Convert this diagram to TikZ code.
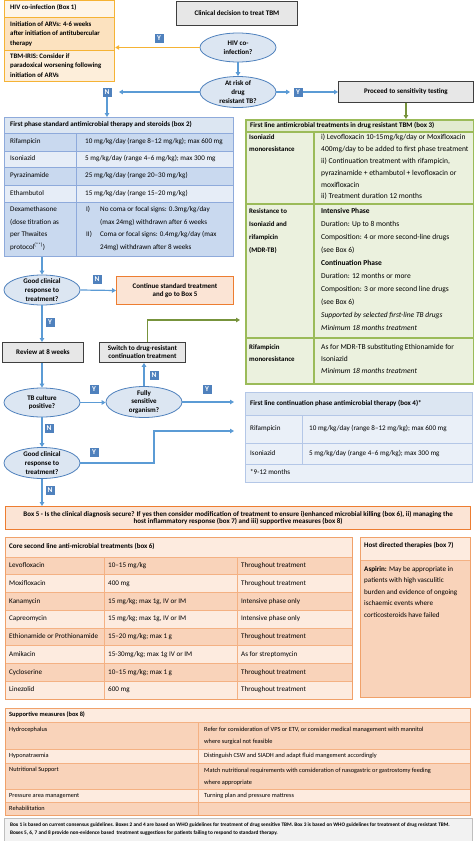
\documentclass[tikz,border=0pt]{standalone}
\usepackage{fontspec}
\setmainfont{Carlito}
\usetikzlibrary{arrows.meta,shapes.geometric,calc}
\definecolor{ygold}{HTML}{F5B335}
\definecolor{bxone}{HTML}{FEF5E8}
\definecolor{bxonem}{HTML}{FCE2BF}
\definecolor{bxonel}{HTML}{FDEEDA}
\definecolor{gfill}{HTML}{E7E7E7}
\definecolor{gline}{HTML}{3F3F3F}
\definecolor{efill}{HTML}{DCE6F2}
\definecolor{eline}{HTML}{4F81BD}
\definecolor{arb}{HTML}{5B9BD5}
\definecolor{ynb}{HTML}{4F81BD}
\definecolor{btwoh}{HTML}{DCE6F2}
\definecolor{btwod}{HTML}{C9D9EF}
\definecolor{btwol}{HTML}{E6EDF7}
\definecolor{btwoline}{HTML}{8EAADB}
\definecolor{gthree}{HTML}{9BBB59}
\definecolor{gfh}{HTML}{E2EBD0}
\definecolor{gfc}{HTML}{EBF1DE}
\definecolor{garr}{HTML}{77933C}
\definecolor{bfour}{HTML}{EAF0F8}
\definecolor{bfourh}{HTML}{DCE6F2}
\definecolor{bfourline}{HTML}{B4C7E7}
\definecolor{ofill}{HTML}{FBE4D5}
\definecolor{oline}{HTML}{ED7D31}
\definecolor{pk}{HTML}{F9D3BA}
\definecolor{pkl}{HTML}{FDEBDF}
\definecolor{pline}{HTML}{F4B183}
\definecolor{pout}{HTML}{F0A16A}
\definecolor{fnf}{HTML}{F2F2F2}
\definecolor{fnl}{HTML}{BFBFBF}
\newcommand\ftab{\fontsize{7.1}{12}\selectfont}
\newcommand\ftabb{\bfseries\fontsize{7}{12}\selectfont}
\newcommand\fbone{\bfseries\fontsize{6.8}{9.4}\selectfont}
\newcommand\fflow{\bfseries\fontsize{7}{8.2}\selectfont}
\newcommand\fell{\bfseries\fontsize{7}{8.8}\selectfont}
\newcommand\fyn{\bfseries\fontsize{7.4}{8}\selectfont}
\newcommand\ffive{\bfseries\fontsize{7}{7.6}\selectfont}
\newcommand\feight{\fontsize{6.3}{12}\selectfont}
\newcommand\ffoot{\bfseries\fontsize{5.3}{7.2}\selectfont}
\begin{document}
\begin{tikzpicture}[x=1pt,y=-1pt,
  tx/.style={inner sep=0pt, anchor=north west, align=left, font=\ftab},
  tc/.style={inner sep=0pt, anchor=west, text height=5.1pt, text depth=1.5pt, font=\ftab},
  bx/.style={draw=gline, fill=gfill, line width=0.9pt, inner sep=1pt, align=center, font=\fflow, anchor=north west},
  el/.style={ellipse, draw=eline, fill=efill, line width=0.8pt, minimum width=76pt, minimum height=30pt, inner sep=0pt},
  eltx/.style={inner sep=0pt, align=center, font=\fell},
  yn/.style={fill=ynb, draw=white, line width=0.4pt, text=white, font=\fyn, minimum width=9.5pt, minimum height=10.5pt, inner sep=0pt},
  ar/.style={draw=arb, line width=1.2pt, -{Triangle[length=4pt,width=4.5pt]}},
  frame/.style={inner sep=0pt, anchor=north west},
]
\useasboundingbox (0,0) rectangle (474,841);
\fill[white] (0,0) rectangle (474,841);

% ---------------- Box 1
\fill[bxone] (4,0) rectangle (114,17);
\fill[bxonem] (4,17) rectangle (114,50);
\fill[bxonel] (4,50) rectangle (114,81);
\draw[ygold, line width=1pt] (4,17) -- (114,17) (4,50) -- (114,50);
\node[frame, draw=ygold, line width=1.2pt, minimum width=110pt, minimum height=81pt] (box1) at (4,0) {};
\node[tx, font=\fbone] (b1h) at (10,4.5) {HIV co-infection (Box 1)};
\node[tx, font=\fbone] (b1a) at (10,21.5) {Initiation of ARVs: 4-6 weeks\\after initiation of antitubercular\\therapy};
\node[tx, font=\fbone] (b1b) at (10,53.5) {TBM-IRIS: Consider if\\paradoxical worsening following\\initiation of ARVs};

% ---------------- top flow
\node[bx, minimum width=121pt, minimum height=24pt] (clin) at (176,0.5) {Clinical decision to treat TBM};
\node[el, minimum height=29pt] (hiv) at (238,47.5) {};
\node[eltx] (hivt) at (hiv) {HIV co-\\infection?};
\node[el, minimum height=31pt] (risk) at (238,92) {};
\node[eltx] (riskt) at (risk) {At risk of\\drug\\resistant TB?};
\node[bx, minimum width=135pt, minimum height=21pt] (proc) at (338,81) {Proceed to sensitivity testing};
\node[yn] (y1) at (159,38) {Y};
\node[yn] (n1) at (107,92) {N};
\node[yn] (y2) at (298,92) {Y};

% ---------------- Box 2
\fill[btwoh] (4,117) rectangle (233,133);
\fill[btwod] (4,133) rectangle (233,151);
\fill[btwol] (4,151) rectangle (233,167);
\fill[btwod] (4,167) rectangle (233,185);
\fill[btwol] (4,185) rectangle (233,202);
\fill[btwod] (4,202) rectangle (233,256);
\draw[btwoline, line width=0.7pt] (4,133) -- (233,133) (4,151) -- (233,151) (4,167) -- (233,167) (4,185) -- (233,185) (4,202) -- (233,202) (76,133) -- (76,256);
\node[frame, draw=btwoline, line width=1pt, minimum width=229pt, minimum height=139pt] (box2) at (4,117) {};
\node[tc, font=\ftabb] (b2h) at (10,125) {First phase standard antimicrobial therapy and steroids (box 2)};
\node[tc] (b2r1) at (10,142) {Rifampicin};
\node[tc] (b2v1) at (85,142) {10 mg/kg/day (range 8–12 mg/kg); max 600 mg};
\node[tc] (b2r2) at (10,159) {Isoniazid};
\node[tc] (b2v2) at (85,159) {5 mg/kg/day (range 4–6 mg/kg); max 300 mg};
\node[tc] (b2r3) at (10,176) {Pyrazinamide};
\node[tc] (b2v3) at (85,176) {25 mg/kg/day (range 20–30 mg/kg)};
\node[tc] (b2r4) at (10,193.5) {Ethambutol};
\node[tc] (b2v4) at (85,193.5) {15 mg/kg/day (range 15–20 mg/kg)};
\node[tx, font=\fontsize{7.1}{12.5}\selectfont] (b2r5) at (10,206.5) {Dexamethasone\\(dose titration as\\per Thwaites\\protocol\textsuperscript{(**)})};
\node[tx, font=\fontsize{7.1}{12.5}\selectfont] (b2i) at (86,206.5) {I)\\ \\II)};
\node[tx, font=\fontsize{7.1}{12.5}\selectfont] (b2v5) at (100,206.5) {No coma or focal signs: 0.3mg/kg/day\\(max 24mg) withdrawn after 6 weeks\\Coma or focal signs: 0.4mg/kg/day (max\\24mg) withdrawn after 8 weeks};

% ---------------- Box 3
\fill[gfh] (245,119) rectangle (473,132);
\fill[gfc] (245,132) rectangle (473,383);
\draw[gthree, line width=1.2pt] (245,132) -- (473,132) (245,204) -- (473,204) (245,338) -- (473,338) (314,132) -- (314,383);
\node[frame, draw=gthree, line width=1.8pt, minimum width=228pt, minimum height=264pt] (box3) at (245,119) {};
\node[tc, font=\ftabb] (b3h) at (250,125.5) {First line antimicrobial treatments in drug resistant TBM (box 3)};
\node[tx, font=\bfseries\fontsize{6.9}{11.8}\selectfont] (b3r1) at (249,134.5) {Isoniazid\\monoresistance};
\node[tx, font=\fontsize{7.5}{11.8}\selectfont] (b3v1) at (321,134.2) {i) Levofloxacin 10-15mg/kg/day or Moxifloxacin\\400mg/day to be added to first phase treatment\\ii) Continuation treatment with rifampicin,\\pyrazinamide + ethambutol + levofloxacin or\\moxifloxacin\\ii) Treatment duration 12 months};
\node[tx, font=\bfseries\fontsize{6.9}{13}\selectfont] (b3r2) at (249,208.5) {Resistance to\\Isoniazid and\\rifampicin\\(MDR-TB)};
\node[tx, font=\fontsize{7.5}{13}\selectfont] (b3v2) at (321,208.2) {\textbf{Intensive Phase}\\Duration: Up to 8 months\\Composition: 4 or more second-line drugs\\(see Box 6)\\\textbf{Continuation Phase}\\Duration: 12 months or more\\Composition: 3 or more second line drugs\\(see Box 6)\\\textit{Supported by selected first-line TB drugs}\\\textit{Minimum 18 months treatment}};
\node[tx, font=\bfseries\fontsize{6.9}{12}\selectfont] (b3r3) at (249,344.5) {Rifampicin\\monoresistance};
\node[tx, font=\fontsize{7.5}{12}\selectfont] (b3v3) at (321,344.2) {As for MDR-TB substituting Ethionamide for\\Isoniazid\\\textit{Minimum 18 months treatment}};

% ---------------- middle flow
\node[el] (gc1) at (42,290) {};
\node[eltx] (gc1t) at (gc1) {Good clinical\\response to\\treatment?};
\node[frame, draw=oline, fill=ofill, line width=1pt, minimum width=117pt, minimum height=28pt, align=center, font=\fflow] (cont) at (116,276) {Continue standard treatment\\and go to Box 5};
\node[yn] (n2) at (97,279) {N};
\node[yn] (y3) at (50,322) {Y};
\node[bx, minimum width=81pt, minimum height=20pt] (rev) at (2,342) {Review at 8 weeks};
\node[bx, minimum width=86pt, minimum height=20pt] (swi) at (99,342) {Switch to drug-resistant\\continuation treatment};
\coordinate (g1) at (240,320);
\node[el, minimum height=29pt] (tbc) at (42,402.5) {};
\node[eltx] (tbct) at (tbc) {TB culture\\positive?};
\node[el, minimum height=31pt] (fs) at (144,402) {};
\node[eltx] (fst) at (fs) {Fully\\sensitive\\organism?};
\node[yn] (y4) at (94,389) {Y};
\node[yn] (n5) at (154,375) {N};
\node[yn] (y6) at (207,389) {Y};
\coordinate (a4) at (234,402);
\node[yn] (n7) at (49,428) {N};
\node[el, minimum height=31pt] (gc2) at (42,463) {};
\node[eltx] (gc2t) at (gc2) {Good clinical\\response to\\treatment?};
\node[yn] (y8) at (94,452) {Y};
\coordinate (a5) at (234,431);
\node[yn] (n9) at (50,490) {N};

% ---------------- Box 4
\fill[bfourh] (245,392) rectangle (472,415);
\fill[bfour] (245,415) rectangle (472,482);
\draw[bfourline, line width=0.8pt] (245,415) -- (472,415) (245,443) -- (472,443) (245,464) -- (472,464) (302,415) -- (302,464);
\node[frame, draw=bfourline, line width=1.3pt, minimum width=227pt, minimum height=90pt] (box4) at (245,392) {};
\node[tc, font=\ftabb] (b4h) at (250,403.5) {First line continuation phase antimicrobial therapy (box 4)*};
\node[tc] (b4r1) at (250,429) {Rifampicin};
\node[tc] (b4v1) at (309,429) {10 mg/kg/day (range 8–12 mg/kg); max 600 mg};
\node[tc] (b4r2) at (250,453.5) {Isoniazid};
\node[tc] (b4v2) at (309,453.5) {5 mg/kg/day (range 4–6 mg/kg); max 300 mg};
\node[tc] (b4f) at (250,473) {*9-12 months};

% ---------------- Box 5
\node[frame, draw=oline, fill=ofill, line width=1.2pt, minimum width=465pt, minimum height=23pt, align=center, font=\ffive] (box5) at (5,506) {Box 5 - Is the clinical diagnosis secure? If yes then consider modification of treatment to ensure i)enhanced microbial killing (box 6), ii) managing the\\host inflammatory response (box 7) and iii) supportive measures (box 8)};

% ---------------- Box 6
\fill[pkl] (5,537) rectangle (352,557);
\fill[pk] (5,557) rectangle (352,574.75);
\fill[pkl] (5,574.75) rectangle (352,592.5);
\fill[pk] (5,592.5) rectangle (352,610.25);
\fill[pkl] (5,610.25) rectangle (352,628);
\fill[pk] (5,628) rectangle (352,645.75);
\fill[pkl] (5,645.75) rectangle (352,663.5);
\fill[pk] (5,663.5) rectangle (352,681.25);
\fill[pkl] (5,681.25) rectangle (352,699);
\draw[pline, line width=0.8pt] (5,557) -- (352,557) (5,574.75) -- (352,574.75) (5,592.5) -- (352,592.5) (5,610.25) -- (352,610.25) (5,628) -- (352,628) (5,645.75) -- (352,645.75) (5,663.5) -- (352,663.5) (5,681.25) -- (352,681.25) (104,557) -- (104,699) (237,557) -- (237,699);
\node[frame, draw=pout, line width=1.1pt, minimum width=347pt, minimum height=162pt] (box6) at (5,537) {};
\node[tc, font=\ftabb] (b6h) at (9,547) {Core second line anti-microbial treatments (box 6)};
\node[tc] (b6a1) at (9,565.9) {Levofloxacin};
\node[tc] (b6b1) at (108,565.9) {10–15 mg/kg};
\node[tc] (b6c1) at (241,565.9) {Throughout treatment};
\node[tc] (b6a2) at (9,583.6) {Moxifloxacin};
\node[tc] (b6b2) at (108,583.6) {400 mg};
\node[tc] (b6c2) at (241,583.6) {Throughout treatment};
\node[tc] (b6a3) at (9,601.4) {Kanamycin};
\node[tc] (b6b3) at (108,601.4) {15 mg/kg; max 1g, IV or IM};
\node[tc] (b6c3) at (241,601.4) {Intensive phase only};
\node[tc] (b6a4) at (9,619.1) {Capreomycin};
\node[tc] (b6b4) at (108,619.1) {15 mg/kg; max 1g, IV or IM};
\node[tc] (b6c4) at (241,619.1) {Intensive phase only};
\node[tc] (b6a5) at (9,636.9) {Ethionamide or Prothionamide};
\node[tc] (b6b5) at (108,636.9) {15–20 mg/kg; max 1 g};
\node[tc] (b6c5) at (241,636.9) {Throughout treatment};
\node[tc] (b6a6) at (9,654.6) {Amikacin};
\node[tc] (b6b6) at (108,654.6) {15-30mg/kg; max 1g IV or IM};
\node[tc] (b6c6) at (241,654.6) {As for streptomycin};
\node[tc] (b6a7) at (9,672.4) {Cycloserine};
\node[tc] (b6b7) at (108,672.4) {10–15 mg/kg; max 1 g};
\node[tc] (b6c7) at (241,672.4) {Throughout treatment};
\node[tc] (b6a8) at (9,690.1) {Linezolid};
\node[tc] (b6b8) at (108,690.1) {600 mg};
\node[tc] (b6c8) at (241,690.1) {Throughout treatment};

% ---------------- Box 7
\fill[pkl] (360,537) rectangle (470,560);
\fill[pk] (360,560) rectangle (470,697);
\draw[pline, line width=0.8pt] (360,560) -- (470,560);
\node[frame, draw=pout, line width=1.1pt, minimum width=110pt, minimum height=160pt] (box7) at (360,537) {};
\node[tc, font=\ftabb] (b7h) at (364,546) {Host directed therapies (box 7)};
\node[tx, font=\fontsize{7.1}{11.5}\selectfont] (b7t) at (364,566) {\textbf{Aspirin:} May be appropriate in\\patients with high vasculitic\\burden and evidence of ongoing\\ischaemic events where\\corticosteroids have failed};

% ---------------- Box 8
\fill[pkl] (5,708) rectangle (470,722);
\fill[pk] (5,722) rectangle (470,749);
\fill[pkl] (5,749) rectangle (470,763);
\fill[pk] (5,763) rectangle (470,789);
\fill[pkl] (5,789) rectangle (470,802);
\fill[pk] (5,802) rectangle (470,815);
\draw[pline, line width=0.8pt] (5,722) -- (470,722) (5,749) -- (470,749) (5,763) -- (470,763) (5,789) -- (470,789) (5,802) -- (470,802) (198,722) -- (198,815);
\node[frame, draw=pout, line width=1.1pt, minimum width=465pt, minimum height=107pt] (box8) at (5,708) {};
\node[tc, font=\bfseries\fontsize{6.4}{12}\selectfont] (b8h) at (9,715) {Supportive measures (box 8)};
\node[tc, font=\feight] (b8a1) at (9,729.5) {Hydrocephalus};
\node[tx, font=\feight] (b8b1) at (204,727) {Refer for consideration of VPS or ETV, or consider medical management with mannitol\\where surgical not feasible};
\node[tc, font=\feight] (b8a2) at (9,756) {Hyponatraemia};
\node[tc, font=\feight] (b8b2) at (204,756) {Distinguish CSW and SIADH and adapt fluid mangement accordingly};
\node[tc, font=\feight] (b8a3) at (9,770) {Nutritional Support};
\node[tx, font=\feight] (b8b3) at (204,767.5) {Match nutritional requirements with consideration of nasogastric or gastrostomy feeding\\where appropriate};
\node[tc, font=\feight] (b8a4) at (9,795.5) {Pressure area management};
\node[tc, font=\feight] (b8b4) at (204,795.5) {Turning plan and pressure mattress};
\node[tc, font=\feight] (b8a5) at (9,808.5) {Rehabilitation};

% ---------------- footnote
\node[frame, draw=fnl, fill=fnf, line width=0.8pt, minimum width=468pt, minimum height=23pt] (foot) at (4,818) {};
\node[tx, font=\ffoot] (foott) at (10,823) {Box 1 is based on current consensus guidelines. Boxes 2 and 4 are based on WHO guidelines for treatment of drug sensitive TBM. Box 3 is based on WHO guidelines for treatment of drug resistant TBM.\\Boxes 5, 6, 7 and 8 provide non-evidence based\ \ treatment suggestions for patients failing to respond to standard therapy.};

% ---------------- connectors
\draw[ar, draw=ygold] (hiv.west) -- (hiv.west -| box1.east);
\draw[ar] (hiv.south) -- (risk.north);
\draw[ar, shorten >=7pt] (risk.west) -- (n1.east);
\draw[ar] (n1.south) -- (n1.south |- box2.north);
\draw[ar, shorten >=3pt] (risk.east) -- (y2.west);
\draw[ar] (y2.east) -- (y2.east -| proc.west);
\draw[ar, draw=garr] (proc.south) -- (proc.south |- box3.north);
\draw[ar] (gc1.north |- box2.south) -- (gc1.north);
\draw[ar] (gc1.east) -- (cont.west);
\draw[ar] (gc1.south) -- (rev.north -| gc1.south);
\draw[ar, draw=garr] ([xshift=5pt]swi.north) |- (g1);
\draw[ar] (rev.south -| tbc.north) -- (tbc.north);
\draw[ar] (tbc.east) -- (tbc.east -| fs.west);
\draw[ar] (fs.north) -- (fs.north |- swi.south);
\draw[ar] (fs.east) -- (a4);
\draw[ar] (tbc.south) -- (gc2.north);
\draw[ar] (gc2.east) -| (154,431) -- (a5);
\draw[ar] (gc2.south) -- (gc2.south |- box5.north);
\end{tikzpicture}
\end{document}
